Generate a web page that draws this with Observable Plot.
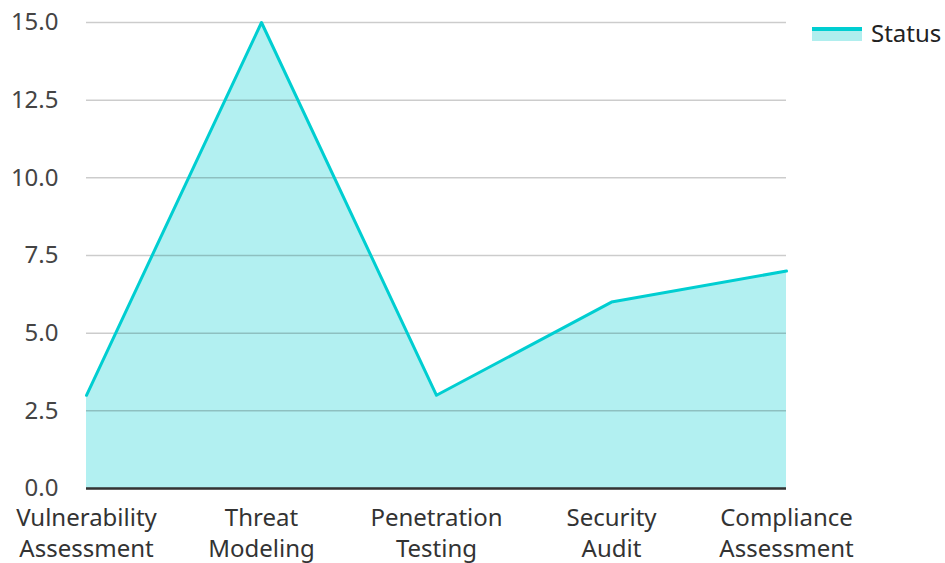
<!DOCTYPE html>
<html>
<head>
<meta charset="utf-8">
<script src="https://cdn.jsdelivr.net/npm/d3@7"></script>
<script src="https://cdn.jsdelivr.net/npm/@observablehq/plot@0.6"></script>
<style>
  html, body { margin: 0; padding: 0; background: #fff; }
  #wrap { position: relative; width: 945px; height: 563px; font-family: "Noto Sans", sans-serif; }
  #legend { position: absolute; left: 812px; top: 16px; display: flex; align-items: center; font-size: 24px; color: #222; }
  #legend .sw { width: 50px; height: 14px; background: #b0eeee; border-top: 4px solid #00ced1; box-sizing: border-box; margin-right: 9px; margin-top: 2px; }
</style>
</head>
<body>
<div id="wrap"><div id="legend"><div class="sw"></div><span>Status</span></div></div>
<script>
const categories = ["Vulnerability\nAssessment", "Threat\nModeling", "Penetration\nTesting", "Security\nAudit", "Compliance\nAssessment"];
const values = [3, 15, 3, 6, 7];
const yTicks = [0, 2.5, 5, 7.5, 10, 12.5, 15];
const seriesName = "Status";

const data = categories.map((c, i) => ({category: c, value: values[i], series: seriesName}));

const chart = Plot.plot({
  width: 945,
  height: 563,
  marginLeft: 86,
  marginRight: 159,
  marginTop: 22,
  marginBottom: 75,
  style: { fontFamily: "Noto Sans, sans-serif", fontSize: "24px", color: "#333", background: "transparent", overflow: "visible" },
  x: { type: "point", domain: categories, padding: 0, label: null },
  y: { domain: [0, 15], label: null },
  marks: [
    Plot.areaY(data, { x: "category", y: "value", fill: "#00ced1", fillOpacity: 0.3 }),
    Plot.gridY(yTicks, { stroke: "#000", strokeOpacity: 0.2, strokeWidth: 1.5 }),
    Plot.lineY(data, { x: "category", y: "value", stroke: "#00ced1", strokeWidth: 3 }),
    Plot.ruleY([0], { stroke: "#333", strokeWidth: 2.5 }),
    Plot.axisY({ ticks: yTicks, tickSize: 0, tickPadding: 28, tickFormat: d => d.toFixed(1), fill: "#444", fontSize: 24 }),
    Plot.axisX({ tickSize: 0, tickPadding: 15, fill: "#333", fontSize: 24, lineHeight: 1.3 })
  ]
});
document.getElementById("wrap").prepend(chart);
chart.style.position = "absolute";
chart.style.left = "0";
chart.style.top = "0";
</script>
</body>
</html>
